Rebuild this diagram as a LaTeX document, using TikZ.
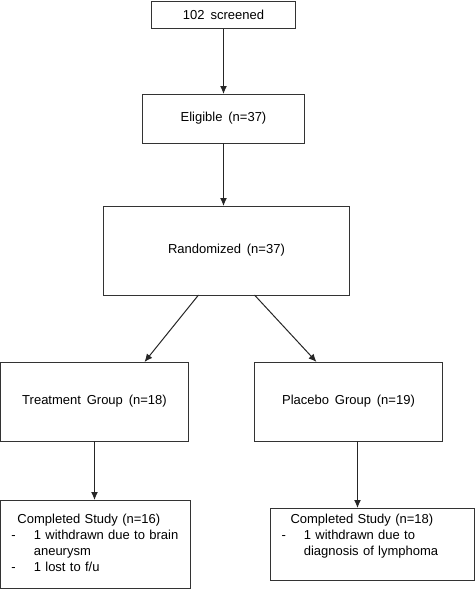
\documentclass[tikz,border=0pt]{standalone}
\usepackage{fontspec}
\setmainfont{Liberation Sans}
\usepackage{tikz}
\usetikzlibrary{
  arrows.meta,
  positioning,
}
\newcommand\boxfont{\fontsize{13}{16}\selectfont\spaceskip 0.45em plus 0.1em\relax}
\tikzstyle{box} = [
  rectangle,
  draw=black!80,
  line width=1pt,
  outer sep=0pt,
  font=\boxfont,
]
\tikzstyle{arrow} = [
  -{Latex[length=8pt,width=7pt]},
  line width=1pt,
  black!85,
]

\begin{document}
\begin{tikzpicture}[node distance=0mm and 0mm]
      \useasboundingbox (-223.5pt,15pt) rectangle (250.5pt,-574pt);

      \node[box,minimum width=143pt,minimum height=27pt] (screen)      {102 screened};
      \node[box,minimum width=162pt,minimum height=49pt] (elig)  [below=65.5pt of screen]  {Eligible (n=37)};
      \node[box,minimum width=246pt,minimum height=89pt,xshift=3pt] (rand)  [below=63pt of elig]  {Randomized (n=37)};

      \node[box,minimum width=188pt,minimum height=79pt,xshift=-132pt] (treat) [below=67pt of rand] {Treatment Group (n=18)};
      \node[box,minimum width=188pt,minimum height=79pt,xshift=122pt]  (plac)  [below=67pt of rand] {Placebo Group (n=19)};

      \node[box,text width=168pt,inner xsep=11pt,minimum height=88pt,align=left,xshift=1pt] (comp1) [below=59pt of treat] {%
        \begin{tabular}{@{}l@{\hspace{18pt}}l@{}}
          \multicolumn{2}{@{\hspace{6pt}}l}{Completed Study (n=16)}\\
          - & 1 withdrawn due to brain\\
            & aneurysm\\
          - & 1 lost to f/u
        \end{tabular}};
      \node[box,text width=182pt,inner xsep=11pt,minimum height=72pt,align=left,xshift=24pt] (comp2) [below=67pt of plac] {%
        \begin{tabular}{@{}l@{\hspace{18pt}}l@{}}
          \multicolumn{2}{@{\hspace{9pt}}l}{Completed Study (n=18)}\\
          - & 1 withdrawn due to\\
            & diagnosis of lymphoma\\
            & \mbox{}
        \end{tabular}};

      \draw[arrow] (screen.south) -- (elig.north);
      \draw[arrow] (elig.south) -- (elig.south |- rand.north);
      \draw[arrow] ([xshift=-28pt]rand.south) -- ([xshift=50pt]treat.north);
      \draw[arrow] ([xshift=28pt]rand.south) -- ([xshift=-32pt]plac.north);
      \draw[arrow] (treat.south) -- (treat.south |- comp1.north);
      \draw[arrow] ([xshift=9pt]plac.south) -- ([xshift=9pt]plac.south |- comp2.north);
    \end{tikzpicture}
\end{document}
